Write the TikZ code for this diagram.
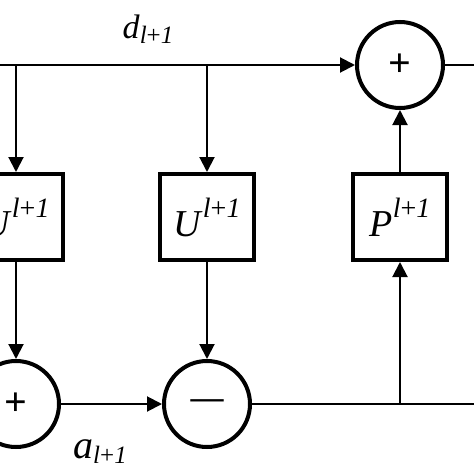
\documentclass[tikz,border=0pt]{standalone}
\usepackage{fontspec}
\setmainfont{Liberation Serif}
\usetikzlibrary{positioning,arrows.meta}

\newcommand{\blktext}[1]{\textit{#1}\raisebox{19pt}{\fontsize{28}{28}\selectfont\textit{l}+\textit{1}}}
\newcommand{\sigtext}[3]{{\fontsize{#2}{#2}\selectfont\textit{#1}}\raisebox{-5pt}{\fontsize{#3}{#3}\selectfont\textit{l}+\textit{1}}}

\begin{document}
\begin{tikzpicture}[x=1pt,y=-1pt,
  blk/.style={
   draw,
   line width=4pt,
   minimum width=94pt,
   minimum height=86pt,
   inner sep=0pt,
   font=\fontsize{38}{38}\selectfont
  },
  sum/.style={
   draw,
   circle,
   line width=4pt,
   minimum size=86pt,
   inner sep=0pt,
   font=\fontsize{40}{40}\selectfont\bfseries
  },
  wire/.style={line width=2pt},
  arr/.style={wire,-{Triangle[length=15pt,width=15pt]}}]
	\useasboundingbox (0,0) rectangle (474,474);
	\clip (0,0) rectangle (474,474);

	\node[sum] at (400,65) (top) {+};
	\node[blk] at (16,217) (u1) {\blktext{U}};
	\node[blk] at (207,217) (u2) {\blktext{U}};
	\node[blk] at (400,217) (p) {\blktext{P}};
	\node[sum] at (16,404) (plus) {+};
	\node[sum,font=\fontsize{33}{33}\selectfont\bfseries] at (207,404) (minus) {\textemdash};

	\coordinate (din) at (0,65);
	\coordinate (dout) at (474,65);
	\coordinate (aout) at (474,404);

	\node at (148,29) (dlab) {\sigtext{d}{34}{25}};
	\node at (100,452) (alab) {\sigtext{a}{40}{25}};

	\draw[arr] (din) -- (top);
	\draw[wire] (top) -- (dout);
	\draw[arr] (u1 |- din) -- (u1);
	\draw[arr] (u2 |- din) -- (u2);
	\draw[arr] (u1) -- (plus);
	\draw[arr] (u2) -- (minus);
	\draw[arr] (plus) -- (minus);
	\draw[wire] (minus) -- (aout);
	\draw[arr] (p |- aout) -- (p);
	\draw[arr] (p) -- (top);

\end{tikzpicture}
\end{document}
